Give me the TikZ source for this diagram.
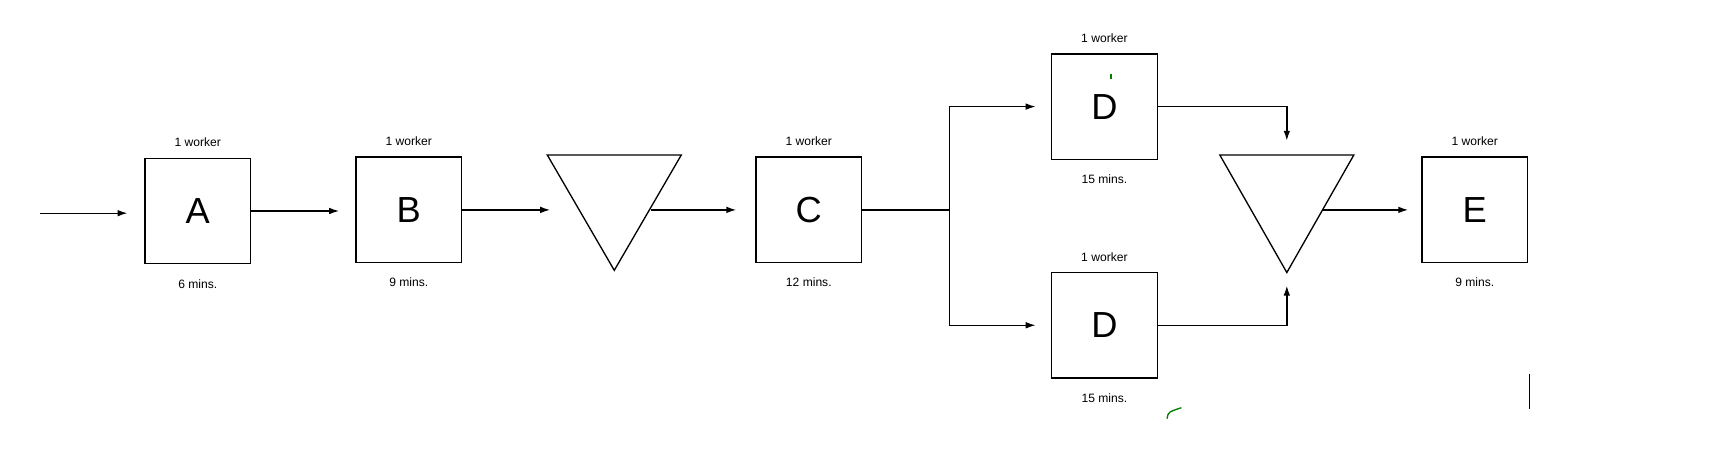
\documentclass[tikz,border=0pt]{standalone}
\usepackage{fontspec}
\setmainfont{Liberation Sans}
\usetikzlibrary{positioning,arrows.meta}
\begin{document}
\begin{tikzpicture}[x=1pt,y=-1pt,
  box/.style={draw,line width=1.2pt,minimum size=96pt,inner sep=0pt,font=\fontsize{33}{33}\selectfont},
  lab/.style={font=\fontsize{11}{11}\selectfont},
  arr/.style={line width=1.2pt,-{Latex[length=9pt,width=6pt]}},
  ln/.style={line width=1.2pt}]
\useasboundingbox (0,0) rectangle (1567,419);
\node[box] (A) at (180,192) {A};
\node[box] (B) at (372,191) {B};
\node[box] (C) at (736,191) {C};
\node[box] (D1) at (1005,97) {D};
\node[box] (D2) at (1005,296) {D};
\node[box] (E) at (1342,191) {E};
\foreach \n/\t/\b in {A/6 mins./1 worker,B/9 mins./1 worker,C/12 mins./1 worker,D1/15 mins./1 worker,D2/15 mins./1 worker,E/9 mins./1 worker}{
  \node[lab,above=6pt of \n.north] (\n top) {\b};
  \node[lab,below=10pt of \n.south] (\n bot) {\t};
}
\draw[ln] (498,141) coordinate (T1a) -- (620,141) coordinate (T1b) -- (559,246) coordinate (T1c) -- cycle;
\draw[ln] (1110,141) coordinate (T2a) -- (1232,141) coordinate (T2b) -- (1171,248) coordinate (T2c) -- cycle;
\coordinate (in) at (36,194);
\coordinate (inE) at (116,194);
\draw[arr] (in) -- (inE);
\draw[arr] (A.east) -- ++(80,0);
\draw[arr] (B.east) -- ++(80,0);
\coordinate (t1o) at (592,191);
\draw[arr] (t1o) -- (670,191);
\coordinate (split) at (864,191);
\draw[ln] (C.east) -- (split);
\draw[arr] (split) |- ([xshift=-14pt]D1.west);
\draw[arr] (split) |- ([xshift=-14pt]D2.west);
\draw[arr] (D1.east) -| (1171,128);
\draw[arr] (D2.east) -| (1171,260);
\coordinate (t2o) at (1203,191);
\draw[arr] (t2o) -- ([xshift=-12pt]E.west);
\draw[line width=1.2pt] (1392,340) -- (1392,372);
\draw[green!50!black,line width=1.5pt] (1011,67) -- (1011,72);
\draw[green!50!black,line width=1.2pt] (1062,381) .. controls (1063,375) .. (1075,371);
\end{tikzpicture}
\end{document}
